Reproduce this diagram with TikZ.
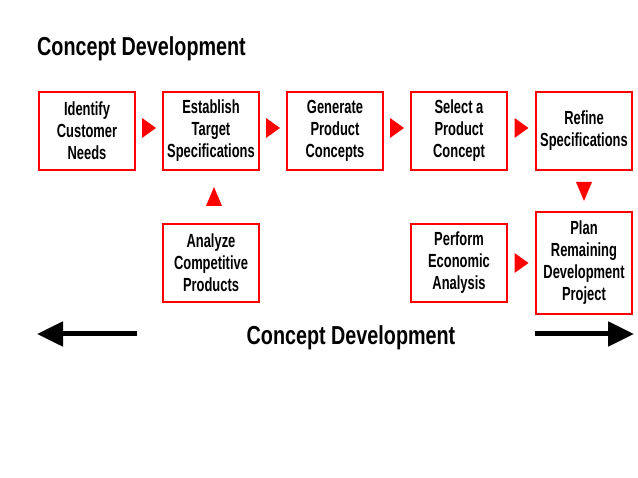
\documentclass[tikz,border=0pt]{standalone}
\usepackage{fontspec}
\setmainfont{Liberation Sans}[FakeStretch=0.76]
\newfontfamily\boxfont{Liberation Sans}[FakeStretch=0.68]
\usetikzlibrary{arrows.meta}

\begin{document}
\begin{tikzpicture}[x=1pt,y=-1pt,
  stage/.style={draw=red, line width=2.5pt, minimum width=96pt, minimum height=78pt,
    inner sep=1pt, align=center, font=\boxfont\bfseries\fontsize{19}{22}\selectfont},
  heading/.style={inner sep=0pt, font=\bfseries\fontsize{26}{30}\selectfont},
  span/.style={line width=5pt, -{Triangle[length=26pt,width=24pt]}},
  tri right/.pic={\fill[red] (-7,-10) -- (7,0) -- (-7,10) -- cycle;},
  tri up/.pic={\fill[red] (-8,9) -- (0,-10) -- (8,9) -- cycle;},
  tri down/.pic={\fill[red] (-8,-9) -- (0,10) -- (8,-9) -- cycle;}]
\useasboundingbox (0,0) rectangle (638,478);

\node (title) [heading, anchor=base west] at (37,56) {Concept Development};

% top row
\node (identify) [stage] at (87,131) {Identify\\Customer\\Needs};
\node (establish) [stage] at (211,131) {Establish\\Target\\Specifications};
\node (generate) [stage] at (335,131) {Generate\\Product\\Concepts};
\node (select) [stage] at (459,131) {Select a\\Product\\Concept};
\node (refine) [stage] at (584,131) {Refine\\Specifications};

% bottom row
\node (analyze) [stage] at (211,263) {Analyze\\Competitive\\Products};
\node (perform) [stage] at (459,263) {Perform\\Economic\\Analysis};
\node (plan) [stage, minimum height=102pt] at (584,263) {Plan\\Remaining\\Development\\Project};

\path (identify) -- (establish) pic[midway, yshift=3pt]{tri right};
\path (establish) -- (generate) pic[midway, yshift=3pt]{tri right};
\path (generate) -- (select) pic[midway, yshift=3pt]{tri right};
\path (select) -- (refine) pic[midway, yshift=3pt]{tri right};
\path (analyze) -- (establish) pic[midway, xshift=3pt]{tri up};
\path (refine) -- (plan) pic[midway]{tri down};
\path (perform) -- (plan) pic[midway]{tri right};

% span arrows
\node (span) [heading, anchor=base] at (351,345) {Concept Development};
\coordinate (lstart) at (137,334);
\coordinate (lend) at (37,334);
\coordinate (rstart) at (535,334);
\coordinate (rend) at (634,334);
\draw [span] (lstart) -- (lend);
\draw [span] (rstart) -- (rend);
\end{tikzpicture}
\end{document}
